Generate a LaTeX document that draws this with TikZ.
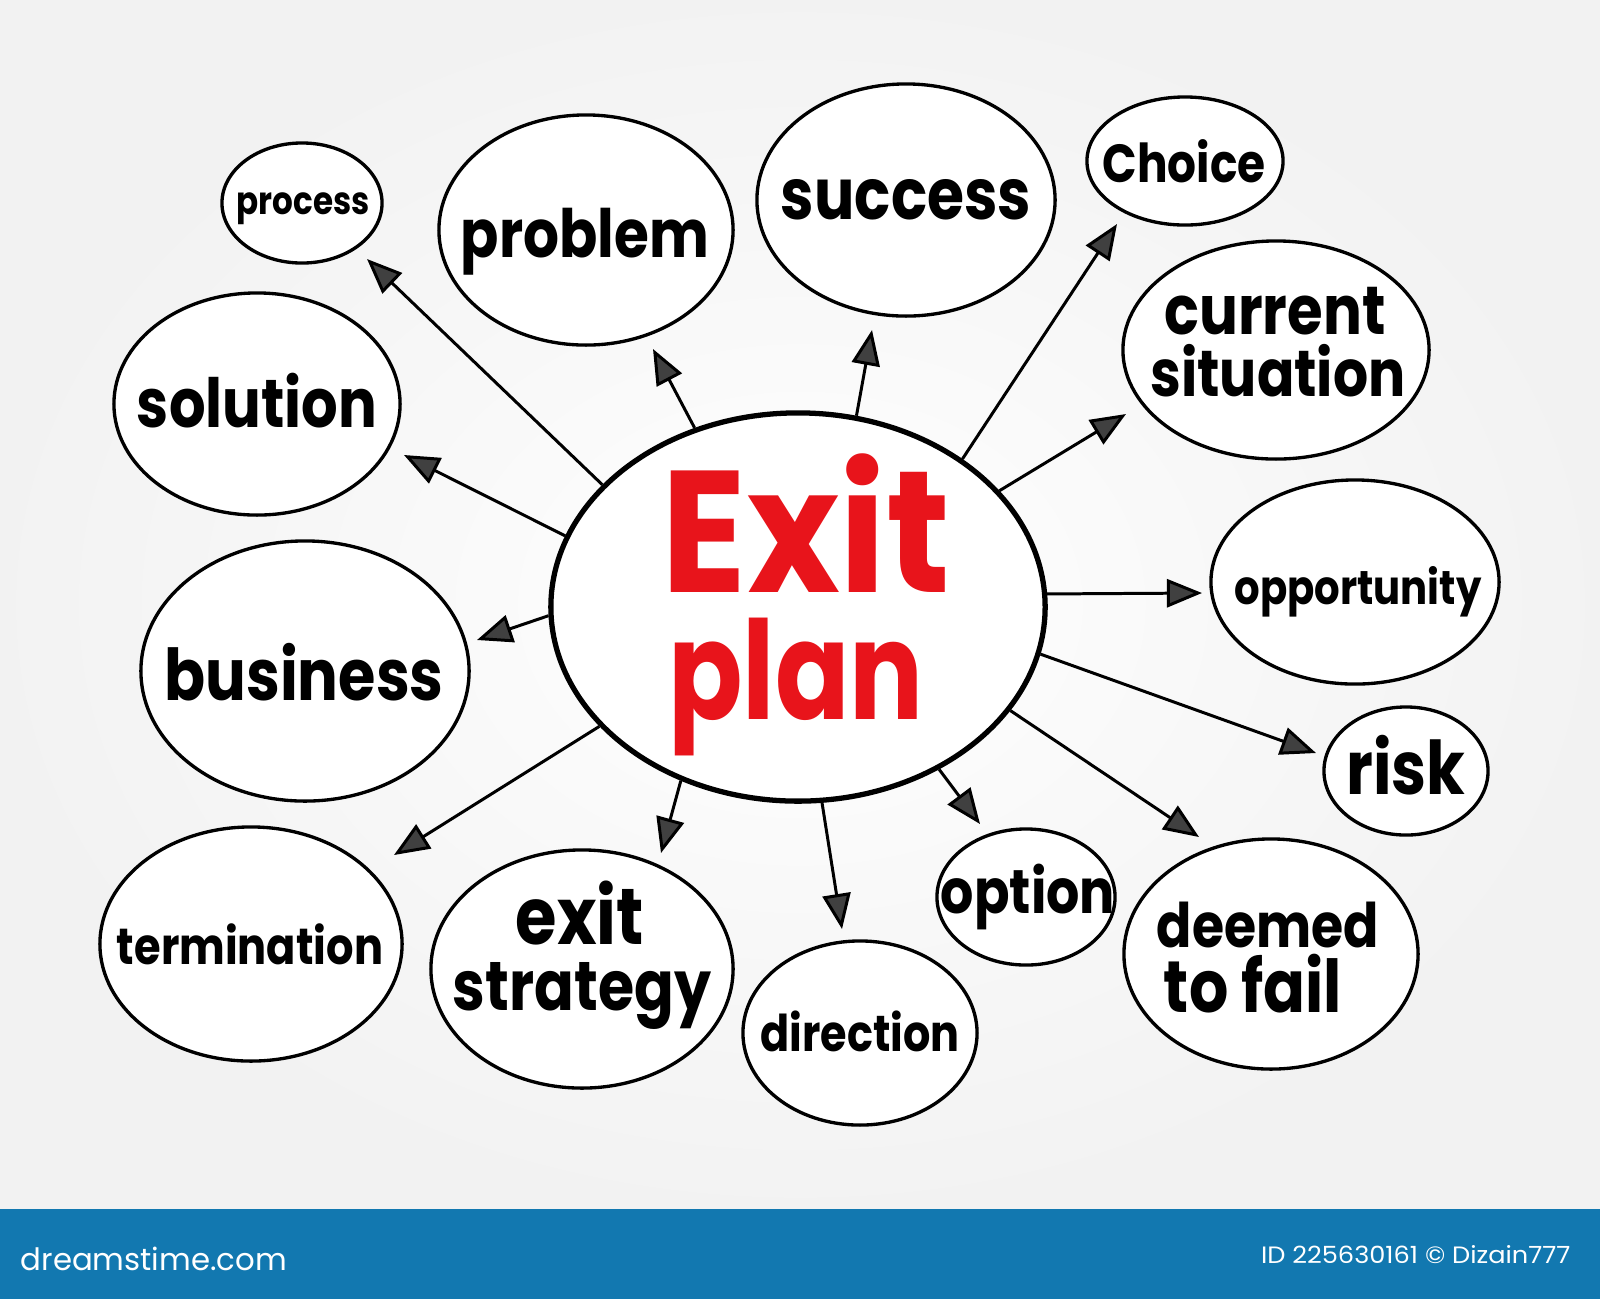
\documentclass[tikz,border=0pt]{standalone}
\usepackage{fontspec}
\setmainfont{Poppins}
\usetikzlibrary{arrows.meta,shapes.geometric}
\definecolor{barblue}{HTML}{1278B0}
\definecolor{exitred}{HTML}{E8141B}
\newcommand\hw[2]{\scalebox{1}[1.18]{\resizebox{#1cm}{!}{\bfseries #2}}}
\newcommand\hwr[3]{\scalebox{1}[#1]{\resizebox{#2cm}{!}{\bfseries #3}}}
\begin{document}
\begin{tikzpicture}[x=0.01cm,y=-0.01cm,
  bub/.style={draw=black, line width=0.95pt, ellipse, inner sep=0pt, fill=white},
  hub/.style={draw=black, line width=1.5pt, ellipse, inner sep=0pt, fill=white},
  txt/.style={anchor=base, inner sep=0pt, text=black},
  red/.style={anchor=base, inner sep=0pt, text=exitred},
  arr/.style={line width=0.85pt, -{Triangle[length=10pt,width=8pt,fill=black!75]}},
]
\useasboundingbox (0,0) rectangle (1600,1299);
\shade[inner color=white, outer color=black!5] (0,0) rectangle (1600,1209);
\fill[barblue] (0,1209) rectangle (1600,1299);

% bubbles
\node[hub, minimum width=4.94cm, minimum height=3.88cm] (c) at (798,607) {};
\node[bub, minimum width=1.60cm, minimum height=1.20cm] (process) at (302,203) {};
\node[bub, minimum width=2.94cm, minimum height=2.30cm] (problem) at (586,230) {};
\node[bub, minimum width=2.98cm, minimum height=2.32cm] (success) at (906,200) {};
\node[bub, minimum width=1.96cm, minimum height=1.28cm] (choice) at (1185,161) {};
\node[bub, minimum width=3.06cm, minimum height=2.18cm] (current) at (1276,350) {};
\node[bub, minimum width=2.86cm, minimum height=2.22cm] (solution) at (257,404) {};
\node[bub, minimum width=2.88cm, minimum height=2.04cm] (opportunity) at (1355,582) {};
\node[bub, minimum width=3.28cm, minimum height=2.60cm] (business) at (305,671) {};
\node[bub, minimum width=1.64cm, minimum height=1.28cm] (risk) at (1406,771) {};
\node[bub, minimum width=3.02cm, minimum height=2.34cm] (termination) at (251,944) {};
\node[bub, minimum width=3.02cm, minimum height=2.38cm] (strategy) at (582,969) {};
\node[bub, minimum width=2.34cm, minimum height=1.84cm] (direction) at (860,1033) {};
\node[bub, minimum width=1.78cm, minimum height=1.36cm] (option) at (1026,897) {};
\node[bub, minimum width=2.94cm, minimum height=2.30cm] (deemed) at (1271,954) {};

% texts
\node[red] (t1) at (806,592) {\hwr{1.1}{2.88}{Exit}};
\node[red] (t2) at (796,719) {\hwr{1.25}{2.55}{plan}};
\node[txt] at (303,214) {\hw{1.33}{process}};
\node[txt] at (585,257) {\hw{2.48}{problem}};
\node[txt] at (906,219) {\hw{2.50}{success}};
\node[txt] at (1184,182) {\hw{1.63}{Choice}};
\node[txt] at (1275,334) {\hw{2.21}{current}};
\node[txt] at (1278,396) {\hw{2.55}{situation}};
\node[txt] at (257,427) {\hw{2.40}{solution}};
\node[txt] at (1358,604) {\hw{2.47}{opportunity}};
\node[txt] at (304,700) {\hw{2.79}{business}};
\node[txt] at (1406,794) {\hw{1.19}{risk}};
\node[txt] at (250,964) {\hw{2.66}{termination}};
\node[txt] at (580,944) {\hw{1.28}{exit}};
\node[txt] at (582,1010) {\hw{2.58}{strategy}};
\node[txt] at (860,1051) {\hw{1.99}{direction}};
\node[txt] at (1028,913) {\hw{1.74}{option}};
\node[txt] at (1268,947) {\hw{2.22}{deemed}};
\node[txt] at (1253,1012) {\hw{1.78}{to fail}};

% arrow tips
\coordinate (aprocess) at (367,259);
\coordinate (aproblem) at (653,349);
\coordinate (asuccess) at (872,330);
\coordinate (achoice) at (1117,224);
\coordinate (acurrent) at (1126,414);
\coordinate (asolution) at (404,455);
\coordinate (aopportunity) at (1202,593);
\coordinate (abusiness) at (477,640);
\coordinate (arisk) at (1316,753);
\coordinate (atermination) at (394,855);
\coordinate (astrategy) at (661,853);
\coordinate (adirection) at (842,929);
\coordinate (aoption) at (980,824);
\coordinate (adeemed) at (1199,837);

\draw[arr] (c.148.6) -- (aprocess);
\draw[arr] (c.120.1) -- (aproblem);
\draw[arr] (c.73.3) -- (asuccess);
\draw[arr] (c.42.4) -- (achoice);
\draw[arr] (c.30.3) -- (acurrent);
\draw[arr] (c.163.2) -- (asolution);
\draw[arr] (c.3.8) -- (aopportunity);
\draw[arr] (c.182.1) -- (abusiness);
\draw[arr] (c.-11.9) -- (arisk);
\draw[arr] (c.211) -- (atermination);
\draw[arr] (c.236.9) -- (astrategy);
\draw[arr] (c.277.4) -- (adirection);
\draw[arr] (c.311.8) -- (aoption);
\draw[arr] (c.334.6) -- (adeemed);

% footer
\node[anchor=base west, inner sep=0pt, text=white] (ds) at (20,1270) {\resizebox{2.66cm}{!}{dreamstime.com}};
\node[anchor=base east, inner sep=0pt, text=white] (id) at (1571,1263) {\resizebox{3.09cm}{0.18cm}{ID 225630161 © Dizain777}};
\end{tikzpicture}
\end{document}
